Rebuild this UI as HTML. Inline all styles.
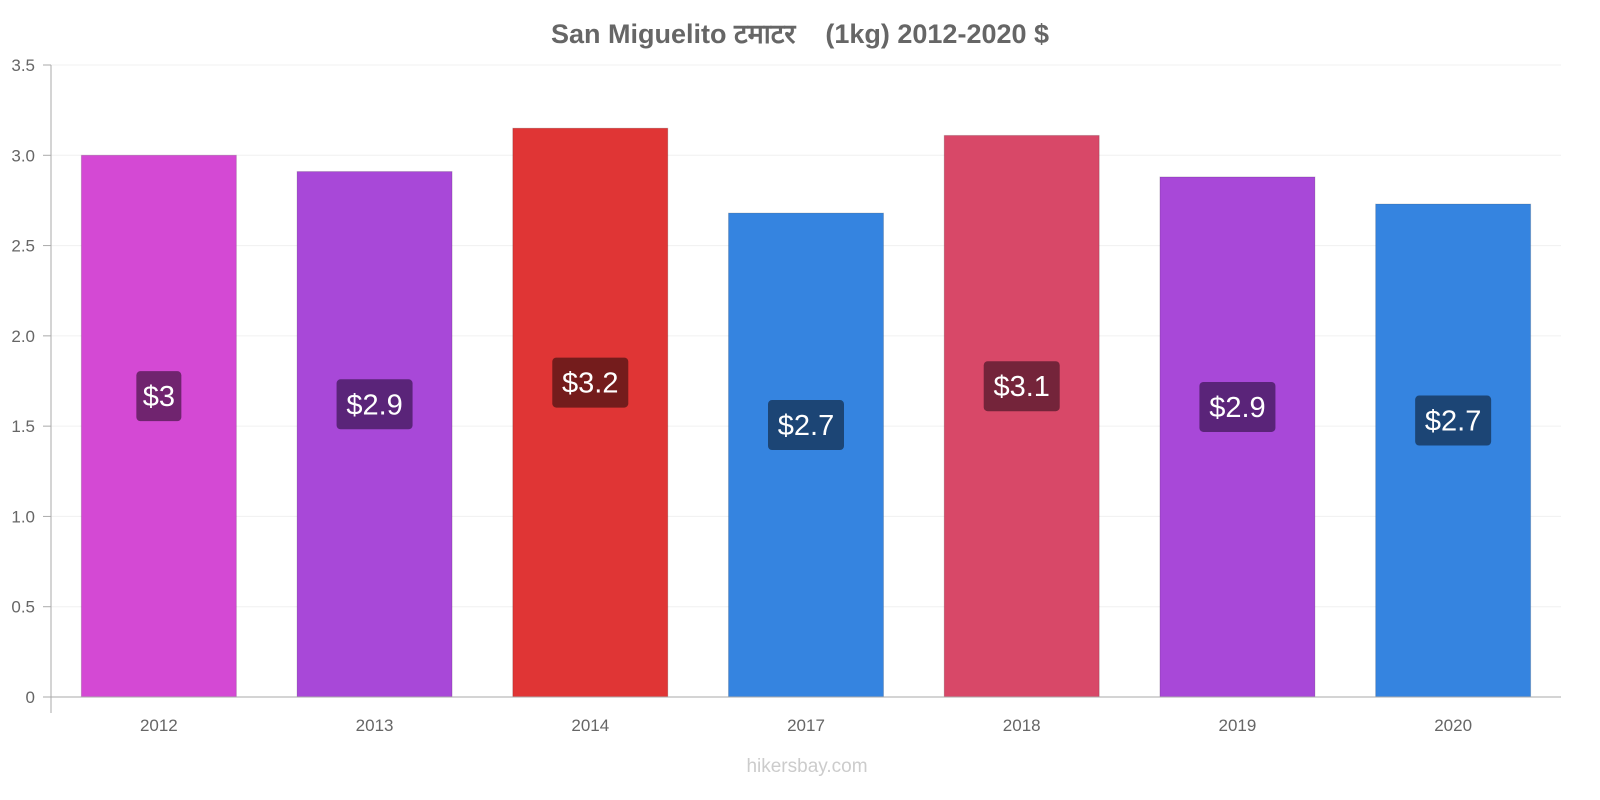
<!DOCTYPE html>
<html><head><meta charset="utf-8"><style>
html,body{margin:0;padding:0;background:#fff;overflow:hidden;width:1600px;height:800px;font-family:"Liberation Sans",sans-serif;}
svg{display:block;}
svg text{font-family:"Liberation Sans","Noto Sans CJK SC",sans-serif;}
</style></head><body>
<svg id="chart" width="1600" height="800" viewBox="0 0 1600 800">
<text x="800" y="43" text-anchor="middle" font-size="27" font-weight="bold" fill="#666" style="white-space:pre" xml:space="preserve">San Miguelito टमाटर    (1kg) 2012-2020 $</text>
<g id="grid"></g><g id="bars"></g><g id="labels"></g>
<line x1="51" y1="65" x2="51" y2="713" stroke="#aaa" stroke-width="1"/>
<line x1="43" y1="697" x2="1561" y2="697" stroke="#aaa" stroke-width="1"/>
<text x="807" y="772" text-anchor="middle" font-size="19" fill="#ccc">hikersbay.com</text>
</svg>
<script>
const categories=["2012","2013","2014","2017","2018","2019","2020"];
const values=[3.0,2.91,3.15,2.68,3.11,2.88,2.73];
const valueLabels=["$3","$2.9","$3.2","$2.7","$3.1","$2.9","$2.7"];
const yTicks=[0,0.5,1.0,1.5,2.0,2.5,3.0,3.5];
const yTickLabels=["0","0.5","1.0","1.5","2.0","2.5","3.0","3.5"];
const barColors=["#d449d4","#a848d8","#e03535","#3584e0","#d84868","#a848d8","#3584e0"];
const labelColors=["#70246f","#5a2479","#741c1c","#1c4575","#74243a","#5a2479","#1c4575"];
const NS="http://www.w3.org/2000/svg";
const x0=51,x1=1561,yBase=697,yTop=65,yMax=3.5;
const y=v=>yBase-(v/yMax)*(yBase-yTop);
const band=(x1-x0)/categories.length;
const xC=i=>x0+band*(i+0.5);
function mk(tag,attrs,parent){const e=document.createElementNS(NS,tag);for(const k in attrs)e.setAttribute(k,attrs[k]);parent.appendChild(e);return e;}
const grid=document.getElementById('grid'),bars=document.getElementById('bars'),labels=document.getElementById('labels');
yTicks.forEach((t,i)=>{
  if(t>0){const l=mk('line',{x1:x0,x2:x1,y1:y(t),y2:y(t),stroke:'#f0f0f0'},grid);
  
  }
  const tk=mk('line',{x1:43,x2:x0,y1:y(t),y2:y(t),stroke:'#aaa'},grid);
  
  
  const tx=mk('text',{x:35,y:y(t)+6,'text-anchor':'end','font-size':17,fill:'#666'},grid);
  tx.textContent=yTickLabels[i];
  
  
});
const bw=155;
categories.forEach((c,i)=>{
  const top=y(values[i]);
  const r=mk('rect',{x:xC(i)-bw/2,y:top,width:bw,height:yBase-top,fill:barColors[i],stroke:'rgba(0,0,0,0.15)'},bars);
  
  
  const xl=mk('text',{x:xC(i),y:731,'text-anchor':'middle','font-size':17,fill:'#666'},labels);
  xl.textContent=c;
  
  
  const cy=(top+yBase)/2-30;
  const txt=valueLabels[i];
  const w=txt.length*15.5+14;
  const bg=mk('rect',{x:xC(i)-w/2,y:cy-25,width:w,height:50,rx:4,fill:labelColors[i]},labels);
  
  
  const vt=mk('text',{x:xC(i),y:cy+10,'text-anchor':'middle','font-size':29,fill:'#fff'},labels);
  vt.textContent=txt;
  
  
});
</script>
</body></html>
